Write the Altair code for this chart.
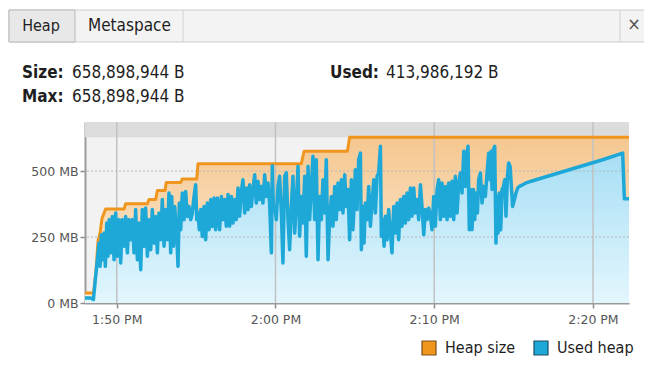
import altair as alt
import pandas as pd

# ---------------- data (time = minutes after 1:48 PM, memory in MB) ----------------
heap_t = [0, 0.54, 0.69, 0.82, 0.95, 1.07, 1.30, 2.46, 2.56, 3.93, 4.03, 4.45, 4.56, 5.04, 5.12,
          6.03, 6.13, 7.04, 7.12, 13.63, 13.80, 16.53, 16.67, 34.27]
heap_mb = [38, 38, 120, 235, 265, 320, 356, 356, 376, 376, 392, 392, 426, 426, 457,
           457, 470, 470, 528, 528, 575, 575, 628.4, 628.4]

used_t = [0, 0.36, 0.53, 0.67, 0.78, 0.88, 0.95, 1.03, 1.11, 1.2, 1.28, 1.37, 1.45, 1.53, 1.62,
          1.72, 1.83, 1.93, 2.04, 2.14, 2.25, 2.35, 2.46, 2.56, 2.67, 2.77, 2.88, 2.98, 3.09, 3.19,
          3.3, 3.4, 3.51, 3.61, 3.72, 3.82, 3.93, 4.03, 4.14, 4.24, 4.35, 4.45, 4.56, 4.66, 4.77,
          4.87, 4.98, 5.08, 5.19, 5.29, 5.4, 5.46, 5.57, 5.65, 5.78, 5.86, 5.94, 6.03, 6.13, 6.24,
          6.34, 6.45, 6.55, 6.66, 6.76, 6.87, 6.97, 7.04, 7.12, 7.2, 7.29, 7.39, 7.5, 7.6, 7.71,
          7.81, 7.92, 8.02, 8.13, 8.23, 8.34,
          8.48, 8.59, 8.69, 8.8, 8.9, 9.01, 9.11, 9.22, 9.32, 9.43, 9.53, 9.64, 9.74, 9.85, 9.95,
          10.06, 10.16, 10.27, 10.37, 10.48, 10.58, 10.69, 10.79, 10.9, 11.0, 11.11, 11.21, 11.32,
          11.42, 11.53, 11.63, 11.74, 11.8, 11.87, 11.95, 12.05, 12.16, 12.26, 12.37, 12.47, 12.58,
          12.68, 12.79, 12.89, 13.0, 13.1, 13.21, 13.31, 13.42, 13.52, 13.63, 13.73, 13.84, 13.94,
          14.05, 14.15, 14.26, 14.36, 14.47, 14.57, 14.68, 14.78, 14.89, 14.99, 15.1, 15.2, 15.31,
          15.41, 15.52, 15.62, 15.73, 15.83, 15.94, 16.04, 16.15, 16.25, 16.36, 16.46, 16.57, 16.67,
          16.78, 16.88,
          16.93, 17.03, 17.14, 17.24, 17.35, 17.41, 17.49, 17.58, 17.66, 17.77, 17.87, 17.98, 18.08,
          18.19, 18.29, 18.4, 18.5, 18.61, 18.67, 18.75, 18.84, 18.92, 19.03, 19.13, 19.24, 19.34,
          19.45, 19.55, 19.66, 19.76, 19.87, 19.97, 20.08, 20.18, 20.29, 20.39, 20.5, 20.6, 20.71,
          20.81, 20.92, 21.02, 21.13, 21.23, 21.34, 21.44, 21.55, 21.65, 21.76, 21.86, 21.97, 22.07,
          22.18, 22.28, 22.39, 22.49, 22.6, 22.7, 22.81, 22.91, 23.02, 23.12, 23.23, 23.33, 23.44,
          23.54, 23.65, 23.75, 23.86, 23.96, 24.07, 24.13, 24.21, 24.3, 24.38, 24.47, 24.55, 24.63,
          24.72, 24.8, 24.91, 25.01, 25.12, 25.22, 25.33,
          25.43, 25.52, 25.58, 25.64, 25.73, 25.81, 25.89, 25.96, 26.02, 26.1, 26.19, 26.27, 26.36,
          26.44, 26.52, 26.61, 26.69, 26.78, 26.86, 26.94, 27.05, 27.15, 27.26, 27.36, 27.57, 27.78,
          28.41, 29.46, 30.51, 31.56, 32.61, 33.87, 33.98, 34.27]
used_mb = [19, 19, 13, 101, 164, 227, 139, 259, 164, 265, 139, 303, 177, 316, 190,
           328, 164, 341, 177, 316, 152, 316, 215, 328, 190, 316, 240, 316, 190, 354,
           164, 303, 126, 354, 215, 360, 177, 316, 202, 354, 227, 328, 190, 341, 240,
           392, 215, 354, 240, 417, 190, 404, 215, 366, 252, 139, 379, 278, 417, 316,
           423, 328, 366, 316, 341, 404, 448, 316, 341, 278, 354, 252, 366, 240, 379,
           278, 392, 290, 398, 278, 398,
           278, 404, 316, 392, 291, 411, 291, 404, 303, 392, 316, 436, 329, 423, 467,
           341, 436, 354, 448, 366, 430, 486, 379, 461, 392, 442, 379, 486,
           404, 455, 379, 190, 520, 354, 366, 316, 442, 480, 341, 152, 480,
           493, 316, 202, 366, 480, 265, 379, 518, 253, 404, 303, 480, 177,
           518, 316, 442, 556, 316, 543, 164, 404, 316, 467, 341, 543, 164,
           316, 404, 291, 442, 316, 455, 354, 467, 341, 486, 366, 430, 240,
           467, 278,
           341, 505, 354, 543, 568, 202, 366, 227, 379, 316, 442, 291, 379,
           467, 341, 480, 493, 594, 253, 316, 215, 329, 240, 354, 265, 190,
           366, 265, 379, 240, 392, 291, 404, 303, 417, 316, 436, 329, 436,
           341, 392, 316, 448, 366, 259, 354, 316, 360, 329, 278, 404, 291,
           430, 467, 316, 455, 329, 442, 316, 455, 329, 461, 316, 480, 341,
           455, 493, 417, 575, 442, 575, 594, 278, 430, 278, 430, 316, 417,
           341, 467, 493, 379, 442, 404, 493,
           568, 467, 575, 430, 581, 594, 227, 404, 265, 417, 278, 430, 442,
           467, 329, 480, 531, 518, 442, 366, 392, 417, 436, 442, 448, 455,
           467, 486, 505, 524, 543, 568, 394.8, 394.8]

x_tick_values = [2, 12, 22, 32]
x_tick_labels = ["1:50 PM", "2:00 PM", "2:10 PM", "2:20 PM"]
y_tick_values = [0, 250, 500]
y_grid_values = [250, 500]
max_heap_mb = 628.4
y_top = 686
t_end = 34.27

info_labels = ["Size:", "Used:", "Max:"]
info_values = ["658,898,944 B", "413,986,192 B", "658,898,944 B"]
tab_labels = ["Heap", "Metaspace"]
legend_labels = ["Heap size", "Used heap"]

# ---------------- styling ----------------
W, H = 544, 181
OX, OY = 85, 122          # page position of plot origin
PAD = dict(left=OX - 8, top=OY - 8, right=15, bottom=60)
UIF = "DejaVu Sans Condensed, DejaVu Sans, sans-serif"
AXF = "DejaVu Sans"
ORANGE, BLUE = "#f0961e", "#1ea8d8"


def rx(px):
    return px - OX


def ry(py):
    return py - OY


heap_df = pd.DataFrame({"t": heap_t, "mb": heap_mb})
used_df = pd.DataFrame({"t": used_t, "mb": used_mb})

xs = alt.Scale(domain=[0, t_end], nice=False, zero=False)
ys = alt.Scale(domain=[0, y_top], nice=False)
lab_expr = "[" + ",".join("'%s'" % s for s in x_tick_labels) + "][indexof([" + \
    ",".join(str(v) for v in x_tick_values) + "], datum.value)]"
x_axis = alt.Axis(values=x_tick_values, labelExpr=lab_expr, title=None, grid=False,
                  tickSize=5, tickColor="#8c8c8c", tickWidth=1.5, domainColor="#9a9a9a", domainWidth=2,
                  labelColor="#555555", labelFont=AXF, labelFontSize=12.5, labelPadding=5)
y_axis = alt.Axis(values=y_tick_values, labelExpr="datum.value + ' MB'", title=None, grid=False,
                  tickSize=5, tickColor="#8c8c8c", tickWidth=1.5, domainColor="#9a9a9a", domainWidth=2,
                  labelColor="#555555", labelFont=AXF, labelFontSize=12.5, labelPadding=2)
X = alt.X("t:Q", scale=xs, axis=x_axis)
Y = alt.Y("mb:Q", scale=ys, axis=y_axis)


def one():
    return alt.Chart(pd.DataFrame({"k": [0]}))


band = alt.Chart(pd.DataFrame({"lo": [max_heap_mb], "hi": [y_top]})).mark_rect(color="#dcdcdc").encode(
    x=alt.value(0), x2=alt.value(W), y=alt.Y("hi:Q", scale=ys, axis=y_axis), y2="lo:Q")

orange_grad = alt.Gradient(gradient="linear", x1=0, x2=0, y1=0, y2=1,
                           stops=[alt.GradientStop(color="#f5c78f", offset=0),
                                  alt.GradientStop(color="#fdeedd", offset=1)])
blue_grad = alt.Gradient(gradient="linear", x1=0, x2=0, y1=0, y2=1,
                         stops=[alt.GradientStop(color="#a4ddf4", offset=0),
                                alt.GradientStop(color="#e3f6fd", offset=1)])

heap_area = alt.Chart(heap_df).mark_area(color=orange_grad).encode(x=X, y=Y)
used_area = alt.Chart(used_df).mark_area(color=blue_grad).encode(x=X, y=Y)

vgrid = alt.Chart(pd.DataFrame({"t": x_tick_values})).mark_rule(color="#c2c2c2", strokeWidth=1.5).encode(x=X)
hgrid = alt.Chart(pd.DataFrame({"mb": y_grid_values})).mark_rule(
    color="#b8b8b8", strokeWidth=1, strokeDash=[2, 2]).encode(y=Y)

heap_line = alt.Chart(heap_df).mark_line(color=ORANGE, strokeWidth=3, strokeJoin="round").encode(x=X, y=Y)
used_line = alt.Chart(used_df).mark_line(color=BLUE, strokeWidth=3.5, strokeJoin="round").encode(x=X, y=Y)

# ---------------- header (tabs and info text) ----------------
tabbar = one().mark_rect(fill="#f3f3f3", stroke="#cccccc", strokeWidth=1).encode(
    x=alt.value(rx(9)), x2=alt.value(rx(650)), y=alt.value(ry(10)), y2=alt.value(ry(42)))
heap_tab = one().mark_rect(fill="#e8e8e8", stroke="#b9b9b9", strokeWidth=1).encode(
    x=alt.value(rx(9)), x2=alt.value(rx(75)), y=alt.value(ry(10)), y2=alt.value(ry(42)))
sep1 = one().mark_rule(color="#d0d0d0").encode(x=alt.value(rx(183)), y=alt.value(ry(10)), y2=alt.value(ry(42)))
sep2 = one().mark_rule(color="#d0d0d0").encode(x=alt.value(rx(620)), y=alt.value(ry(10)), y2=alt.value(ry(42)))


def txt(s, px, py, size=16, weight="normal", color="#1e1e1e", align="left", font=UIF):
    return one().mark_text(align=align, baseline="middle", font=font, fontSize=size,
                           fontWeight=weight, color=color).encode(
        x=alt.value(rx(px)), y=alt.value(ry(py)), text=alt.value(s))


header = [
    tabbar, heap_tab, sep1, sep2,
    txt(tab_labels[0], 41, 26, align="center"),
    txt(tab_labels[1], 88, 26, size=17),
    txt("\u00d7", 634, 25, size=18, color="#555555", align="center"),
    txt(info_labels[0], 22, 73, size=17, weight="bold"),
    txt(info_values[0], 72, 73, size=17),
    txt(info_labels[1], 330, 73, size=17, weight="bold"),
    txt(info_values[1], 386, 73, size=17),
    txt(info_labels[2], 22, 97, size=17, weight="bold"),
    txt(info_values[2], 72, 97, size=17),
]

# ---------------- legend ----------------
def swatch(fill, stroke, px):
    return one().mark_rect(fill=fill, stroke=stroke, strokeWidth=1.2).encode(
        x=alt.value(rx(px)), x2=alt.value(rx(px + 14)), y=alt.value(ry(341)), y2=alt.value(ry(355)))


legend = [
    swatch(ORANGE, "#7a5020", 422),
    txt(legend_labels[0], 445, 348),
    swatch(BLUE, "#1c4f66", 534),
    txt(legend_labels[1], 557, 348),
]

chart = alt.layer(band, heap_area, used_area, vgrid, hgrid, heap_line, used_line,
                  *header, *legend).properties(
    width=W, height=H, padding=PAD, autosize=alt.AutoSizeParams(type="none"),
    background="white"
).configure_view(fill="#f2f2f2", strokeWidth=0)

chart.save("out.html", embed_options={"renderer": "svg", "actions": False})
